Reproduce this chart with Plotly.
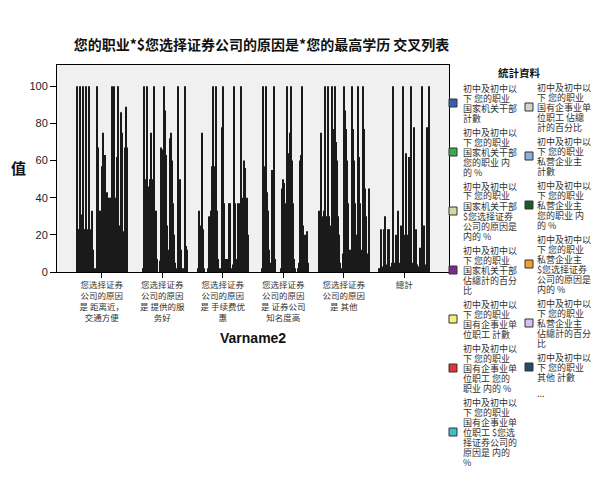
import plotly.graph_objects as go

# ---------------- data ----------------
categories = [
    "您选择证券<br>公司的原因<br>是 距离近，<br>交通方便",
    "您选择证券<br>公司的原因<br>是 提供的服<br>务好",
    "您选择证券<br>公司的原因<br>是 手续费优<br>惠",
    "您选择证券<br>公司的原因<br>是 证券公司<br>知名度高",
    "您选择证券<br>公司的原因<br>是 其他",
    "總計",
]

education = ["初中及初中以下", "高中或中专", "大专及以上"]
occupation = ["国家机关干部", "国有企事业单位职工", "私营企业主", "其他"]
stats = ["計數", "您的职业 内的 %", "$您选择证券公司的原因是 内的 %", "佔總計的百分比"]
series_names = [f"{e} 您的职业 {o} {s}" for e in education for o in occupation for s in stats]

vals_distance = [100, 23, 23, 100, 31, 23, 100, 23, 23, 100,
                 23, 100, 23, 12, 33, 12, 2, 0, 2, 100,
                 67, 22, 33, 33, 57, 75, 36, 63, 43, 27,
                 40, 40, 25, 100, 25, 100, 40, 20, 62, 100,
                 25, 22, 86, 75, 22, 67, 89, 67]
vals_service = [0, 0, 0, 0, 0, 2, 100, 50, 23, 100,
                46, 25, 50, 75, 50, 33, 100, 33, 33, 7,
                0, 6, 67, 66, 60, 100, 87, 63, 25, 12,
                10, 72, 75, 60, 37, 20, 5, 2, 100, 25,
                50, 12, 2, 0, 2, 100, 14, 12]
vals_fee = [2, 33, 7, 25, 75, 23, 2, 0, 0, 0,
            2, 30, 33, 57, 100, 43, 57, 100, 33, 7,
            2, 0, 2, 78, 100, 37, 7, 2, 7, 37,
            37, 2, 0, 4, 100, 37, 7, 2, 37, 25,
            37, 100, 40, 25, 60, 56, 40, 20]
vals_fame = [0, 0, 0, 2, 100, 57, 30, 100, 43, 33,
             12, 2, 5, 55, 54, 100, 7, 0, 0, 0,
             0, 2, 45, 50, 48, 37, 27, 100, 57, 64,
             75, 100, 60, 37, 7, 2, 0, 2, 5, 60,
             63, 100, 25, 7, 20, 2, 22, 5]
vals_other = [33, 10, 75, 25, 30, 33, 100, 30, 25, 100,
              30, 25, 100, 77, 33, 100, 70, 60, 30, 20,
              5, 0, 2, 10, 100, 87, 77, 60, 37, 12,
              5, 100, 77, 60, 37, 20, 7, 100, 62, 37,
              12, 5, 100, 77, 45, 30, 10, 45]
vals_total = [2, 2, 23, 3, 23, 30, 4, 3, 23, 23,
              3, 2, 5, 100, 5, 3, 20, 4, 33, 5,
              25, 3, 100, 5, 20, 64, 5, 20, 62, 37,
              100, 4, 5, 78, 3, 23, 4, 3, 13, 5,
              100, 3, 25, 4, 3, 78, 3, 100]

category_values = [vals_distance, vals_service, vals_fee, vals_fame, vals_other, vals_total]

y_ticks = [0, 20, 40, 60, 80, 100]

legend_col1 = [
    ["初中及初中以", "下 您的职业", "国家机关干部", "計數"],
    ["初中及初中以", "下 您的职业", "国家机关干部", "您的职业 内", "的 %"],
    ["初中及初中以", "下 您的职业", "国家机关干部", "$您选择证券", "公司的原因是", "内的 %"],
    ["初中及初中以", "下 您的职业", "国家机关干部", "佔總計的百分", "比"],
    ["初中及初中以", "下 您的职业", "国有企事业单", "位职工 計數"],
    ["初中及初中以", "下 您的职业", "国有企事业单", "位职工 您的", "职业 内的 %"],
    ["初中及初中以", "下 您的职业", "国有企事业单", "位职工 $您选", "择证券公司的", "原因是 内的", "%"],
]
legend_col1_colors = ["#3a5cb5", "#35ad4a", "#d6d6a2", "#7a2d8a", "#f4ef7e", "#e0373a", "#3fc0c6"]
legend_col2 = [
    ["初中及初中以", "下 您的职业", "国有企事业单", "位职工 佔總", "計的百分比"],
    ["初中及初中以", "下 您的职业", "私营企业主", "計數"],
    ["初中及初中以", "下 您的职业", "私营企业主", "您的职业 内", "的 %"],
    ["初中及初中以", "下 您的职业", "私营企业主", "$您选择证券", "公司的原因是", "内的 %"],
    ["初中及初中以", "下 您的职业", "私营企业主", "佔總計的百分", "比"],
    ["初中及初中以", "下 您的职业", "其他 計數"],
]
legend_col2_colors = ["#d4d4d4", "#8db0de", "#1b5a2c", "#f0a02e", "#d8c0f0", "#1f4f6c"]

# ---------------- figure ----------------
fig = go.Figure()
for i, name in enumerate(series_names):
    fig.add_trace(go.Bar(
        x=categories,
        y=[vals[i] for vals in category_values],
        name=name,
        marker=dict(color="#1a1a1a", line=dict(width=0)),
        showlegend=False,
    ))

W, H = 600, 480
L, R, T, B = 57, 151, 65, 208
pw, ph = W - L - R, H - T - B


def px(x):
    return (x - L) / pw


def py(y):
    return (H - B - y) / ph


annotations = []
shapes = []

# axis labels
annotations.append(dict(x=px(18), y=py(167), xref="paper", yref="paper", text="<b>值</b>",
                        showarrow=False, xanchor="center", yanchor="middle",
                        font=dict(size=15, color="#111", family="Noto Sans CJK SC")))
annotations.append(dict(x=px(253), y=py(338), xref="paper", yref="paper", text="<b>Varname2</b>",
                        showarrow=False, xanchor="center", yanchor="middle",
                        font=dict(size=14, color="#111", family="Liberation Sans, Arial")))
# legend title
annotations.append(dict(x=px(519), y=py(73), xref="paper", yref="paper", text="<b>統計資料</b>",
                        showarrow=False, xanchor="center", yanchor="middle", borderpad=0,
                        font=dict(size=10.5, color="#111", family="Noto Sans CJK SC")))

LINE = 10.0
GAP = 14.0
LFONT = 9


def draw_column(items, colors, sq_x, txt_x, first_y):
    y = first_y
    for lines, col in zip(items, colors):
        n = len(lines)
        for k, t in enumerate(lines):
            annotations.append(dict(x=px(txt_x), y=py(y + k * LINE), xref="paper", yref="paper",
                                    text=t, showarrow=False, xanchor="left", yanchor="middle",
                                    borderpad=0,
                                    font=dict(size=LFONT, color="#333", family="Noto Sans CJK SC")))
        mid = y + (n - 1) * LINE / 2
        shapes.append(dict(type="rect", xref="paper", yref="paper",
                           x0=px(sq_x), x1=px(sq_x + 8), y0=py(mid - 4), y1=py(mid + 4),
                           fillcolor=col, line=dict(color="#333", width=1)))
        y = y + (n - 1) * LINE + GAP
    return y


draw_column(legend_col1, legend_col1_colors, 449, 462, 88)
end2 = draw_column(legend_col2, legend_col2_colors, 525, 536, 87)
annotations.append(dict(x=px(536), y=py(end2 + 2), xref="paper", yref="paper", text="...",
                        showarrow=False, xanchor="left", yanchor="middle", borderpad=0,
                        font=dict(size=LFONT, color="#333", family="Noto Sans CJK SC")))

fig.update_layout(
    width=W, height=H,
    margin=dict(l=L, r=R, t=T, b=B, pad=0),
    paper_bgcolor="white",
    plot_bgcolor="#f0f0f0",
    barmode="group",
    bargap=0.16,
    bargroupgap=0,
    showlegend=False,
    title=dict(text="<b>您的职业*$您选择证券公司的原因是*您的最高学历 交叉列表</b>",
               x=261.5 / W, xanchor="center", y=1 - 45 / H, yanchor="middle",
               font=dict(size=14, color="#111", family="Noto Sans CJK SC")),
    xaxis=dict(type="category", range=[-0.74, 5.74], showline=True, mirror=True,
               linecolor="black", linewidth=1, ticks="outside", ticklen=5, tickcolor="black",
               showgrid=False, tickangle=0,
               tickfont=dict(size=8.5, color="#333", family="Noto Sans CJK SC")),
    yaxis=dict(range=[0, 111.5], tickvals=y_ticks, showline=True, mirror=True,
               linecolor="black", linewidth=1, ticks="outside", ticklen=6, tickcolor="black",
               showgrid=False, zeroline=False,
               tickfont=dict(size=11, color="#222", family="Liberation Sans, Arial")),
    annotations=annotations,
    shapes=shapes,
)

fig.write_html("out.html", config={"displayModeBar": False},
               post_script="document.body.style.margin='0';")
